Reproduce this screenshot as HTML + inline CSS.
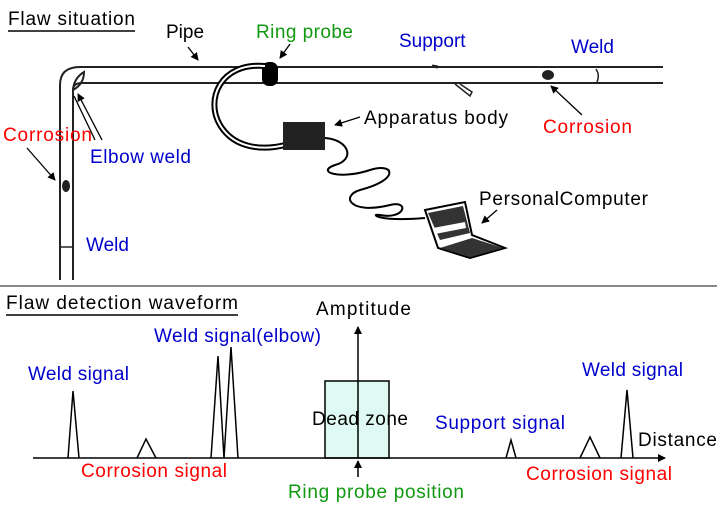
<!DOCTYPE html>
<html><head><meta charset="utf-8"><style>
body{margin:0;background:#fff;width:717px;height:506px;overflow:hidden}
svg{display:block}
text{font-family:"Liberation Sans",sans-serif;font-size:19px}
.b{fill:#0000cc}.r{fill:#ff0000}.g{fill:#119911}.k{fill:#000}
</style></head><body>
<svg width="717" height="506" viewBox="0 0 717 506">
<defs><marker id="a" markerWidth="8" markerHeight="8" refX="7" refY="4" orient="auto" markerUnits="userSpaceOnUse"><path d="M0,0 L8,4 L0,8 z" fill="#000"/></marker></defs>
<text x="8" y="25" class="k" textLength="127">Flaw situation</text>
<line x1="8" y1="31" x2="135" y2="31" stroke="#000" stroke-width="1.5"/>
<line x1="0" y1="286" x2="717" y2="286" stroke="#888" stroke-width="2"/>
<text x="6" y="309" class="k" textLength="232">Flaw detection waveform</text>
<line x1="6" y1="315" x2="238" y2="315" stroke="#000" stroke-width="1.5"/>
<g fill="none" stroke="#222" stroke-width="2">
<path d="M60,280 L60,85 Q60,67 80,67 L663,67"/>
<path d="M73,280 L73,90 Q73,83 82,83 L663,83"/>
<path d="M73,90 Q74,78 84,72 Q84,84 73,90"/>
<line x1="60" y1="247" x2="73" y2="247" stroke-width="1.5"/>
<path d="M596,69 Q600,75 597,82" stroke-width="1.5"/>
<path d="M455,84 L470,96 L472,92 L460,84" stroke-width="1.5"/>
<line x1="432" y1="66" x2="438" y2="67" stroke-width="3"/>
</g>
<ellipse cx="66" cy="186" rx="4" ry="6" fill="#222"/>
<ellipse cx="548" cy="75" rx="6" ry="5" fill="#222"/>
<rect x="262" y="62" width="16" height="24" rx="7" fill="#000"/>
<path d="M265,66 C220,62 205,100 220,125 C235,150 265,150 285,145" fill="none" stroke="#000" stroke-width="6"/>
<path d="M265,66 C220,62 205,100 220,125 C235,150 265,150 285,145" fill="none" stroke="#fff" stroke-width="2"/>
<rect x="283" y="122" width="42" height="28" fill="#222"/>
<path d="M325,138 C350,140 355,160 335,165 C315,172 340,180 370,170 C395,162 400,180 360,190 C340,196 350,215 390,205 C410,200 405,220 380,215 C370,213 375,222 425,218" fill="none" stroke="#000" stroke-width="2"/>
<path d="M425,210 L465,202 L472,235 L505,248 L470,258 L438,248 Z" fill="#fff" stroke="#000" stroke-width="2"/>
<path d="M428,213 L463,206 L470,233 L440,240 Z" fill="#333"/>
<path d="M433,228 L465,222 L466,228 L435,234 Z" fill="#fff"/>
<path d="M440,248 L472,238 L503,248 L470,257 Z" fill="#333"/>
<text x="166" y="38" class="k">Pipe</text>
<text x="256" y="38" class="g" textLength="97">Ring probe</text>
<text x="399" y="47" class="b">Support</text>
<text x="571" y="53" class="b">Weld</text>
<text x="364" y="124" class="k" textLength="144">Apparatus body</text>
<text x="543" y="133" class="r" textLength="89">Corrosion</text>
<text x="3" y="141" class="r" textLength="89">Corrosion</text>
<text x="90" y="163" class="b" textLength="101">Elbow weld</text>
<text x="479" y="205" class="k" textLength="169">PersonalComputer</text>
<text x="86" y="251" class="b">Weld</text>
<g stroke="#000" stroke-width="1.3" fill="none">
<line x1="188" y1="47" x2="198" y2="60" marker-end="url(#a)"/>
<line x1="290" y1="44" x2="280" y2="58" marker-end="url(#a)"/>
<line x1="360" y1="117" x2="335" y2="125" marker-end="url(#a)"/>
<line x1="582" y1="115" x2="551" y2="86" marker-end="url(#a)"/>
<line x1="27" y1="148" x2="55" y2="180" marker-end="url(#a)"/>
<line x1="102" y1="140" x2="78" y2="94" marker-end="url(#a)"/>
<line x1="95" y1="140" x2="74" y2="96"/>
<line x1="497" y1="210" x2="482" y2="223" marker-end="url(#a)"/>
</g>
<rect x="325" y="381" width="64" height="77" fill="#dffaf3" stroke="#000" stroke-width="1.5"/>
<g fill="none" stroke="#000" stroke-width="1.5">
<line x1="33" y1="458" x2="665" y2="458" marker-end="url(#a)"/>
<line x1="358" y1="458" x2="358" y2="327" marker-end="url(#a)"/>
<line x1="358" y1="477" x2="358" y2="461" marker-end="url(#a)"/>
<path d="M68,458 L73,391 L79,458"/>
<path d="M137,458 L146,439 L156,458"/>
<path d="M211,458 L218,356 L224,458 L231,347 L238,458"/>
<path d="M506,458 L511,440 L516,458"/>
<path d="M580,458 L590,437 L600,458"/>
<path d="M621,458 L627,390 L633,458"/>
</g>
<text x="316" y="315" class="k" textLength="95">Amptitude</text>
<text x="154" y="342" class="b" textLength="167">Weld signal(elbow)</text>
<text x="28" y="380" class="b" textLength="101">Weld signal</text>
<text x="582" y="376" class="b" textLength="101">Weld signal</text>
<text x="312" y="425" class="k" textLength="96">Dead zone</text>
<text x="435" y="429" class="b" textLength="130">Support signal</text>
<text x="638" y="446" class="k" textLength="79">Distance</text>
<text x="81" y="477" class="r" textLength="146">Corrosion signal</text>
<text x="526" y="480" class="r" textLength="146">Corrosion signal</text>
<text x="288" y="498" class="g" textLength="176">Ring probe position</text>
</svg>
</body></html>
